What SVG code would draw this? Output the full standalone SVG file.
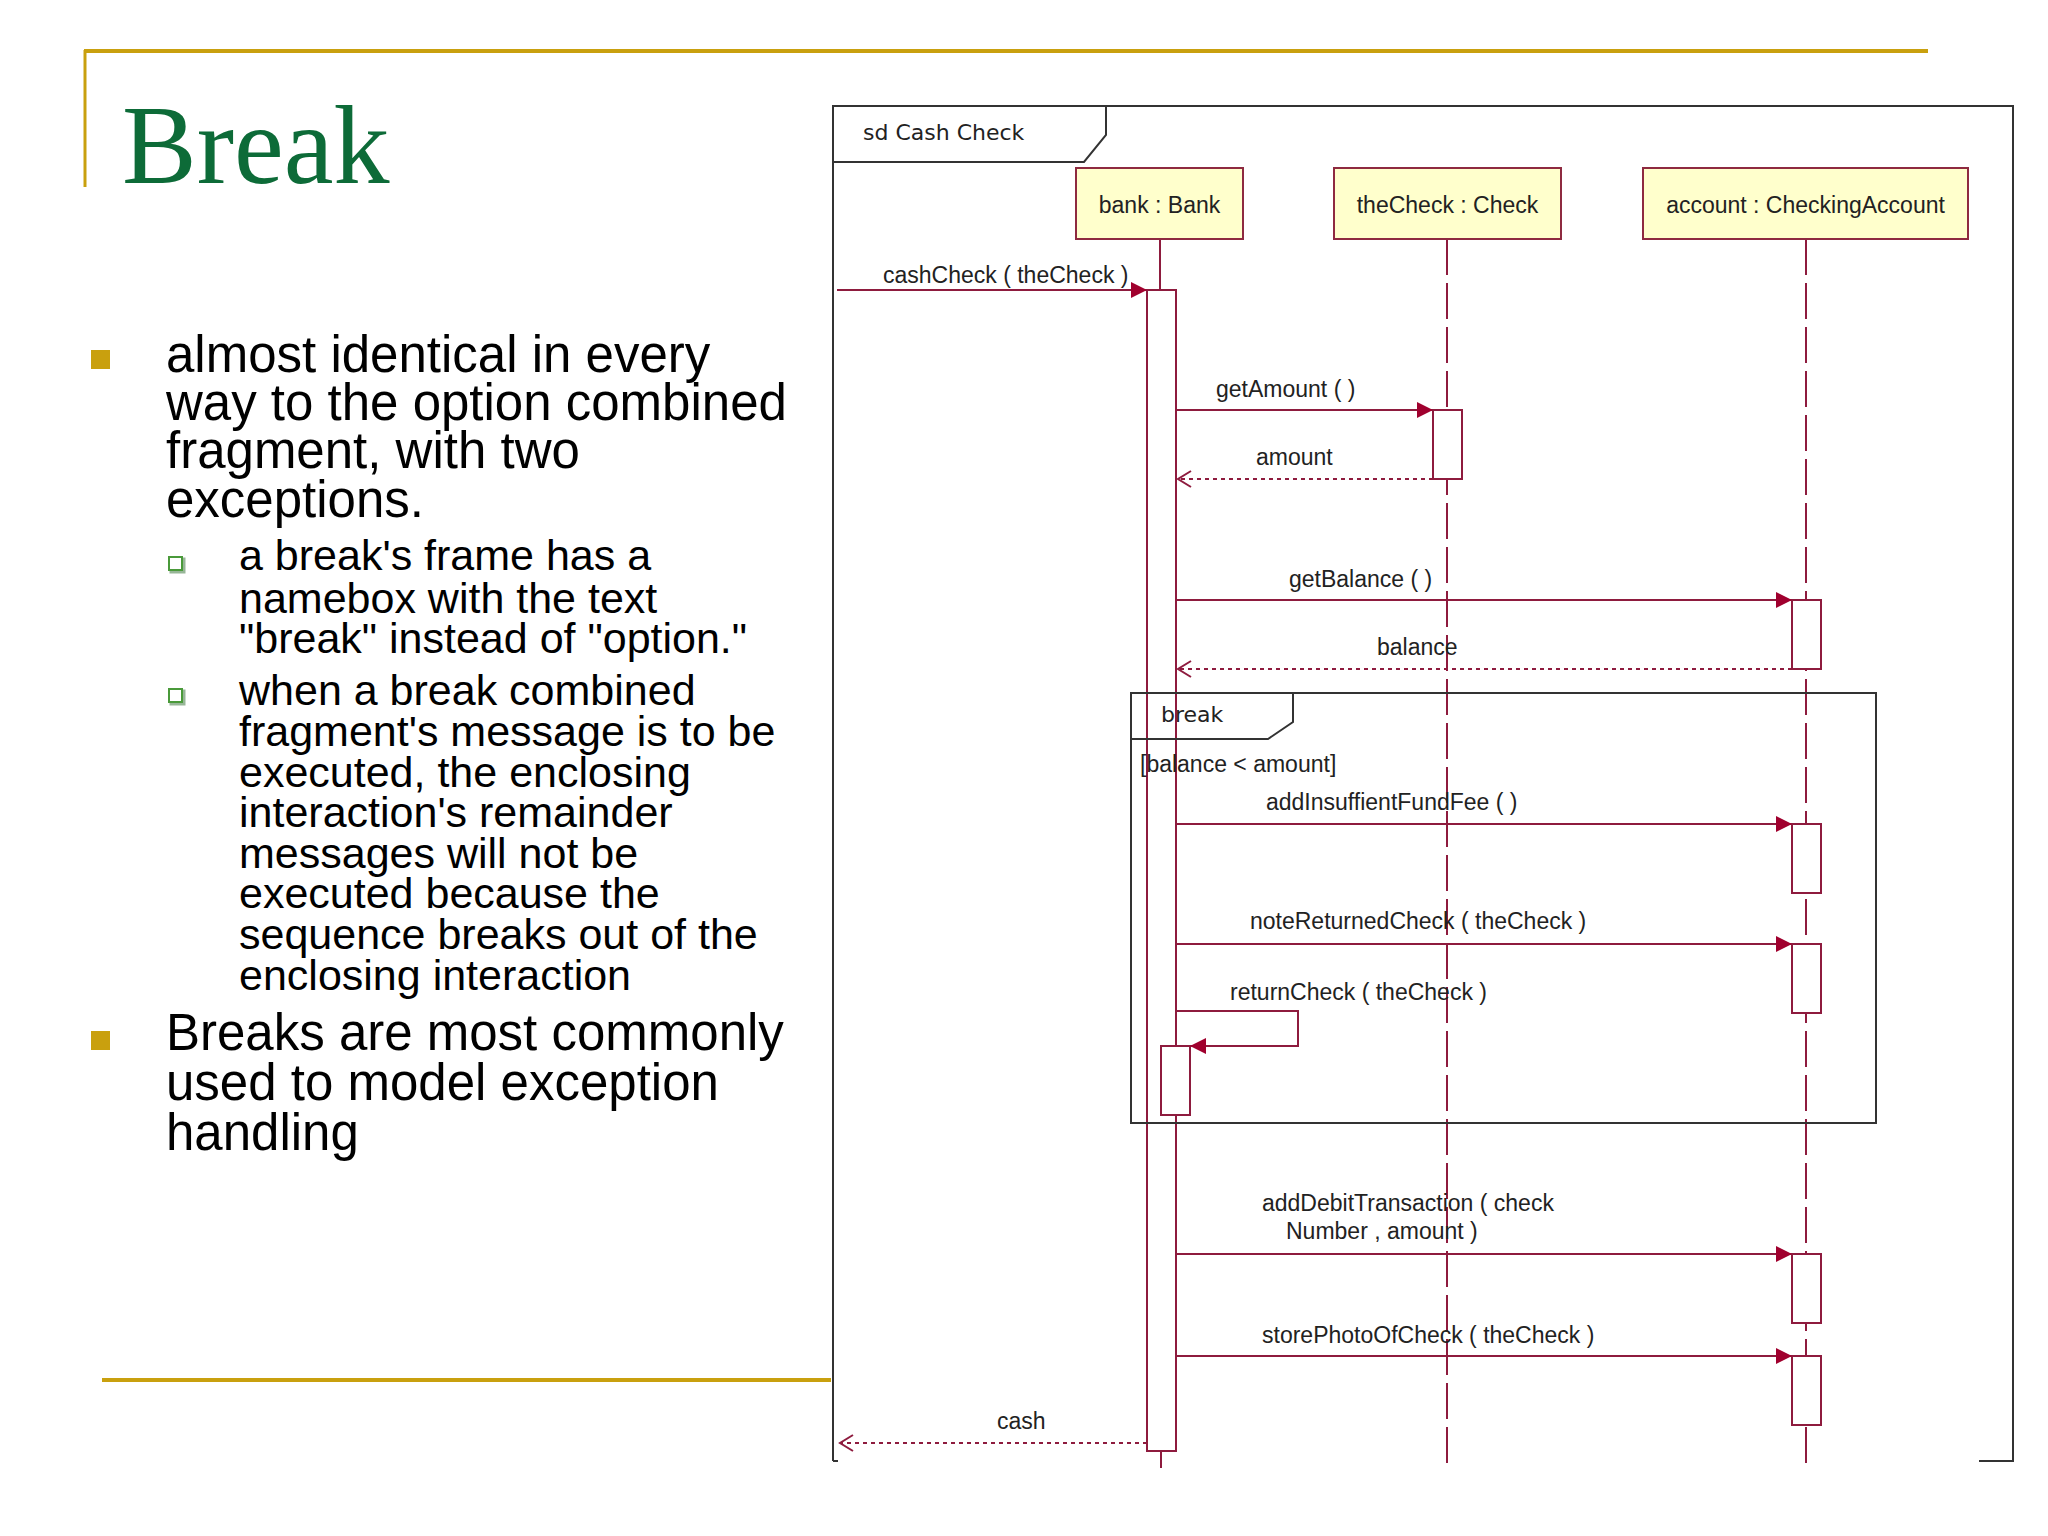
<svg xmlns="http://www.w3.org/2000/svg" width="2048" height="1536" viewBox="0 0 2048 1536">
<defs>
<style>
.gold{stroke:#c9a00e;fill:none}
.main{font-family:"Liberation Sans",Arial,sans-serif;font-size:51px;fill:#000}
.sub{font-family:"Liberation Sans",Arial,sans-serif;font-size:43px;fill:#000}
.lbl{font-family:"Liberation Sans",Arial,sans-serif;font-size:23px;fill:#222}
.tah{font-family:"DejaVu Sans",Verdana,sans-serif;font-size:22px;fill:#222}
.frame{fill:none;stroke:#333;stroke-width:2}
.box{fill:#ffffcc;stroke:#8e2a40;stroke-width:2}
.life{stroke:#8e1b3e;stroke-width:2;fill:none;stroke-dasharray:36 8}
.act{fill:#fff;stroke:#8e1b3e;stroke-width:2}
.msg{stroke:#8e1b3e;stroke-width:2;fill:none;marker-end:url(#fill)}
.ret{stroke:#8e1b3e;stroke-width:2;fill:none;stroke-dasharray:4 4;marker-end:url(#open)}
</style>
<marker id="fill" markerUnits="userSpaceOnUse" markerWidth="18" markerHeight="16" refX="16" refY="8" orient="auto">
<path d="M0,0 L16,8 L0,16 z" fill="#a0002e"/>
</marker>
<marker id="open" markerUnits="userSpaceOnUse" markerWidth="18" markerHeight="18" refX="15" refY="9" orient="auto">
<path d="M2,1 L15,9 L2,17" fill="none" stroke="#8e1b3e" stroke-width="2"/>
</marker>
</defs>
<rect width="2048" height="1536" fill="#fff"/>

<g id="slide">
<line class="gold" x1="84" y1="51" x2="1928" y2="51" stroke-width="4"/>
<line class="gold" x1="85" y1="50" x2="85" y2="187" stroke-width="3"/>
<line class="gold" x1="102" y1="1380" x2="831" y2="1380" stroke-width="4"/>
<text x="122" y="183" font-family="'Liberation Serif','Times New Roman',serif" font-size="112" fill="#0d6b38">Break</text>
</g>

<g id="bullets">
<rect x="91" y="350" width="19" height="19" fill="#c9a00e"/>
<text class="main" x="166" y="372">almost identical in every</text>
<text class="main" x="166" y="420">way to the option combined</text>
<text class="main" x="166" y="468">fragment, with two</text>
<text class="main" x="166" y="517">exceptions.</text>
<rect x="170" y="558" width="13" height="13" fill="none" stroke="#2f6e2f" stroke-width="3" transform="translate(1,1)" opacity="0.5"/>
<rect x="169" y="557" width="13" height="13" fill="#fff" stroke="#4a9a3a" stroke-width="2"/>
<text class="sub" x="239" y="570">a break's frame has a</text>
<text class="sub" x="239" y="613">namebox with the text</text>
<text class="sub" x="239" y="653">"break" instead of "option."</text>
<rect x="170" y="690" width="13" height="13" fill="none" stroke="#2f6e2f" stroke-width="3" transform="translate(1,1)" opacity="0.5"/>
<rect x="169" y="689" width="13" height="13" fill="#fff" stroke="#4a9a3a" stroke-width="2"/>
<text class="sub" x="239" y="705">when a break combined</text>
<text class="sub" x="239" y="746">fragment's message is to be</text>
<text class="sub" x="239" y="787">executed, the enclosing</text>
<text class="sub" x="239" y="827">interaction's remainder</text>
<text class="sub" x="239" y="868">messages will not be</text>
<text class="sub" x="239" y="908">executed because the</text>
<text class="sub" x="239" y="949">sequence breaks out of the</text>
<text class="sub" x="239" y="990">enclosing interaction</text>
<rect x="91" y="1031" width="19" height="19" fill="#c9a00e"/>
<text class="main" x="166" y="1050">Breaks are most commonly</text>
<text class="main" x="166" y="1100">used to model exception</text>
<text class="main" x="166" y="1150">handling</text>
</g>

<g id="sd-frame">
<path class="frame" d="M833,1461 V106 H2013 V1461 H1979"/>
<line class="frame" x1="833" y1="1461" x2="838" y2="1461"/>
<path class="frame" d="M833,162 H1084 L1106,135 V106"/>
<text class="tah" x="863" y="140" font-size="24.5">sd Cash Check</text>
</g>

<g id="lifeline-bank">
<line x1="1160" y1="239" x2="1160" y2="290" stroke="#8e1b3e" stroke-width="2"/>
<line class="life" x1="1161" y1="1451" x2="1161" y2="1468" stroke-dasharray="3 6"/>
<rect class="box" x="1076" y="168" width="167" height="71"/>
<text class="lbl" x="1159.5" y="213" text-anchor="middle">bank : Bank</text>
<rect class="act" x="1147" y="290" width="29" height="1161"/>
<rect class="act" x="1161" y="1046" width="29" height="69"/>
</g>

<g id="lifeline-check">
<line class="life" x1="1447" y1="239" x2="1447" y2="1468"/>
<rect class="box" x="1334" y="168" width="227" height="71"/>
<text class="lbl" x="1447.5" y="213" text-anchor="middle">theCheck : Check</text>
<rect class="act" x="1433" y="410" width="29" height="69"/>
</g>

<g id="lifeline-account">
<line class="life" x1="1806" y1="239" x2="1806" y2="1468"/>
<rect class="box" x="1643" y="168" width="325" height="71"/>
<text class="lbl" x="1805.5" y="213" text-anchor="middle">account : CheckingAccount</text>
<rect class="act" x="1792" y="600" width="29" height="69"/>
<rect class="act" x="1792" y="824" width="29" height="69"/>
<rect class="act" x="1792" y="944" width="29" height="69"/>
<rect class="act" x="1792" y="1254" width="29" height="69"/>
<rect class="act" x="1792" y="1356" width="29" height="69"/>
</g>

<g id="break-fragment">
<rect class="frame" x="1131" y="693" width="745" height="430"/>
<path class="frame" d="M1131,739 H1268 L1293,722 V693"/>
<text class="tah" x="1161" y="722">break</text>
<text class="lbl" x="1140" y="772">[balance &lt; amount]</text>
</g>

<g id="connectors">
<line class="msg" x1="837" y1="290" x2="1147" y2="290"/>
<text class="lbl" x="883" y="283">cashCheck ( theCheck )</text>
<line class="msg" x1="1176" y1="410" x2="1433" y2="410"/>
<text class="lbl" x="1216" y="397">getAmount ( )</text>
<line class="ret" x1="1433" y1="479" x2="1178" y2="479"/>
<text class="lbl" x="1256" y="465">amount</text>
<line class="msg" x1="1176" y1="600" x2="1792" y2="600"/>
<text class="lbl" x="1289" y="587">getBalance ( )</text>
<line class="ret" x1="1792" y1="669" x2="1178" y2="669"/>
<text class="lbl" x="1377" y="655">balance</text>
<line class="msg" x1="1176" y1="824" x2="1792" y2="824"/>
<text class="lbl" x="1266" y="810">addInsuffientFundFee ( )</text>
<line class="msg" x1="1176" y1="944" x2="1792" y2="944"/>
<text class="lbl" x="1250" y="929">noteReturnedCheck ( theCheck )</text>
<path class="msg" d="M1176,1011 H1298 V1046 H1190"/>
<text class="lbl" x="1230" y="1000">returnCheck ( theCheck )</text>
<line class="msg" x1="1176" y1="1254" x2="1792" y2="1254"/>
<text class="lbl" x="1262" y="1211">addDebitTransaction ( check</text>
<text class="lbl" x="1286" y="1239">Number , amount )</text>
<line class="msg" x1="1176" y1="1356" x2="1792" y2="1356"/>
<text class="lbl" x="1262" y="1343">storePhotoOfCheck ( theCheck )</text>
<line class="ret" x1="1147" y1="1443" x2="840" y2="1443"/>
<text class="lbl" x="997" y="1429">cash</text>
</g>
</svg>
